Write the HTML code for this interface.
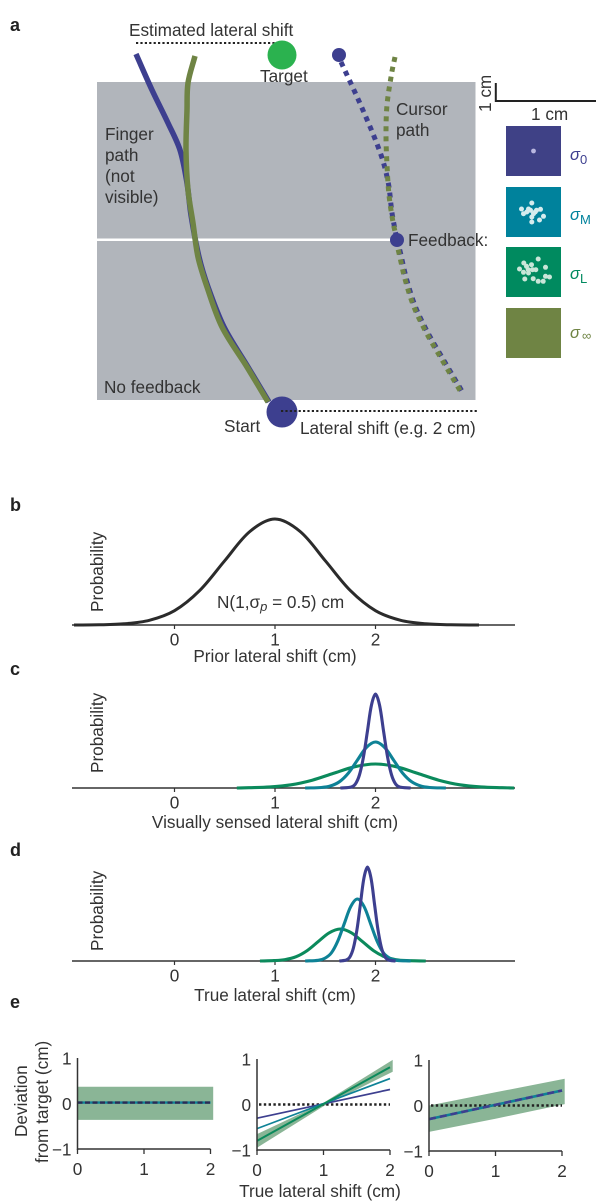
<!DOCTYPE html>
<html lang="en">
<head>
<meta charset="utf-8">
<title>Lateral shift figure</title>
<style>
html,body{margin:0;padding:0;background:#fff}
svg{display:block}
text{font-family:"Liberation Sans",Arial,sans-serif;fill:#333;font-size:17.2px}
.letter{font-weight:bold;font-size:18px;fill:#222}
.sig{font-size:16.5px;font-style:italic}
.sub{font-size:13px;font-style:normal}
</style>
</head>
<body>
<svg id="fig" xmlns="http://www.w3.org/2000/svg" width="600" height="1202" viewBox="0 0 600 1202">
  <rect width="600" height="1202" fill="#fff"/>
  <text class="letter" x="10" y="31">a</text>
  <text class="letter" x="10" y="511">b</text>
  <text class="letter" x="10" y="675">c</text>
  <text class="letter" x="10" y="856">d</text>
  <text class="letter" x="10" y="1008">e</text>

  <g>
    <rect x="97" y="82" width="378.500" height="318" fill="#b1b5bb"/>
    <rect x="97" y="238.500" width="298" height="2.500" fill="#fff"/>
  </g>
  <g id="panelA"></g>
  <g>
    <line x1="136" y1="43" x2="284" y2="43" stroke="#222" stroke-width="2" stroke-dasharray="2.200 2.200"/>
    <circle cx="282" cy="55" r="14.500" fill="#2bb24f"/>
    <circle cx="339" cy="55" r="7" fill="#3d3f8f"/>
    <circle cx="397" cy="240" r="7" fill="#3d3f8f"/>
    <circle cx="282" cy="412" r="15.500" fill="#3d3f8f"/>
    <line x1="281" y1="411" x2="477" y2="411" stroke="#222" stroke-width="2" stroke-dasharray="2.200 2.200"/>
    <text x="129" y="36">Estimated lateral shift</text>
    <text x="260" y="82">Target</text>
    <text x="396" y="115">Cursor</text>
    <text x="396" y="136">path</text>
    <text x="105" y="140">Finger</text>
    <text x="105" y="161">path</text>
    <text x="105" y="182">(not</text>
    <text x="105" y="203">visible)</text>
    <text x="408" y="246">Feedback:</text>
    <text x="104" y="393">No feedback</text>
    <text x="224" y="432">Start</text>
    <text x="300" y="434">Lateral shift (e.g. 2 cm)</text>
    <path d="M495.800 83V101H596" fill="none" stroke="#222" stroke-width="2"/>
    <text transform="translate(491,112) rotate(-90)">1 cm</text>
    <text x="531" y="120">1 cm</text>
    <rect x="506" y="126" width="55" height="50" fill="#3f4186"/>
    <rect x="506" y="187" width="55" height="50" fill="#00829c"/>
    <rect x="506" y="247" width="55" height="50" fill="#008a5f"/>
    <rect x="506" y="308" width="55" height="50" fill="#6f8444"/>
    <text class="sig" x="570" y="160" style="fill:#3d3f8f">σ<tspan class="sub" dy="4">0</tspan></text>
    <text class="sig" x="570" y="220" style="fill:#00829c">σ<tspan class="sub" dy="4">M</tspan></text>
    <text class="sig" x="570" y="279" style="fill:#008a5f">σ<tspan class="sub" dy="4">L</tspan></text>
    <text class="sig" x="570" y="338" style="fill:#6f8444">σ<tspan class="sub" dy="2" dx="2">∞</tspan></text>
  </g>
  <g id="swatchDots"></g>

  <g id="panelB"></g>
  <g id="panelC"></g>
  <g id="panelD"></g>
  <g id="panelE"></g>

  <text transform="translate(103,612) rotate(-90)">Probability</text>
  <text transform="translate(103,773) rotate(-90)">Probability</text>
  <text transform="translate(103,951) rotate(-90)">Probability</text>
  <text x="217" y="608">N(1,σ<tspan font-style="italic" font-size="13" dy="3">p</tspan><tspan dy="-3"> = 0.5) cm</tspan></text>
  <text x="275" y="662" text-anchor="middle">Prior lateral shift (cm)</text>
  <text x="275" y="828" text-anchor="middle">Visually sensed lateral shift (cm)</text>
  <text x="275" y="1001" text-anchor="middle">True lateral shift (cm)</text>
  <text transform="translate(27,1137) rotate(-90)">Deviation</text>
  <text transform="translate(48,1163) rotate(-90)">from target (cm)</text>
  <text x="320" y="1197" text-anchor="middle">True lateral shift (cm)</text>
</svg>

<script>
// ---------- Panel a: schematic paths, in cm from the start marker ----------
const fingerSigma0X = [-1.46,-1.30,-1.14,-1.02,-.95,-.91,-.83,-.74,-.58,-.34,-.13];
const fingerSigma0Y = [3.58,3.22,2.89,2.62,2.29,1.97,1.55,1.25,.85,.45,.10];
const fingerInfX = [-.87,-.94,-.95,-.96,-.94,-.89,-.84,-.75,-.60,-.35,-.14];
const fingerInfY = [3.56,3.29,3.02,2.62,2.22,1.89,1.55,1.25,.85,.45,.10];
const cursorSigma0UpperX = [.59,.80,.987,1.063,1.10,1.15];
const cursorSigma0UpperY = [3.50,3.04,2.58,2.29,1.99,1.72];
const cursorInfUpperX = [1.13,1.097,1.05,1.04,1.05,1.07,1.11,1.15];
const cursorInfUpperY = [3.55,3.39,3.07,2.77,2.47,2.17,1.90,1.72];
const cursorSigma0LowerX = [1.15,1.18,1.245,1.335,1.46,1.61,1.81];
const cursorSigma0LowerY = [1.72,1.61,1.33,1.05,.79,.53,.19];
const cursorInfLowerX = [1.135,1.165,1.23,1.32,1.445,1.595,1.795];
const cursorInfLowerY = [1.72,1.61,1.33,1.05,.79,.53,.19];

// ---------- Swatch scatter samples ----------
const sigma0DotsX = [0];
const sigma0DotsY = [0];
const sigmaMDotsX = [-12,-10,-1.7,-3,0,-1.7,3,7,10,6,-1.7,-6.7,1.7,-5];
const sigmaMDotsY = [-3,1.7,-9,-1.7,1.7,5,-1.7,-2.7,4.3,8,10,0,0,-3];
const sigmaLDotsX = [4.7,-9.7,-2,-14,-10,-5,-1,2.3,12,-8.7,-.3,4.7,9.7,12,16,-5.3,-7];
const sigmaLDotsY = [-13,-9,-7.3,-3,.3,1,-2.3,-2.3,-4.7,7,6.7,9.3,9.3,4.3,5,-2.3,-5.7];

// ---------- Panel b ----------
const priorCurveX = [-1,-.75,-.5,-.25,0,.25,.5,.75,1,1.25,1.5,1.75,2,2.25,2.5,2.75,3.03];
const priorCurveP = [0,.002,.012,.047,.143,.344,.643,.935,1.06,.935,.643,.344,.143,.047,.012,.002,0];

// ---------- Panel c ----------
const sensedSigma0X = [1.65,1.76,1.80,1.84,1.88,1.92,1.96,2,2.04,2.08,2.12,2.16,2.20,2.24,2.35];
const sensedSigma0P = [0,.01,.04,.13,.31,.57,.83,.94,.83,.57,.31,.13,.04,.01,0];
const sensedSigmaMX = [1.30,1.46,1.55,1.64,1.73,1.82,1.91,2,2.09,2.18,2.27,2.36,2.45,2.54,2.70];
const sensedSigmaMP = [0,.005,.02,.062,.149,.279,.406,.46,.406,.279,.149,.062,.02,.005,0];
const sensedSigmaLX = [.62,.74,.95,1.16,1.37,1.58,1.79,2,2.21,2.42,2.63,2.84,3.05,3.26,3.38];
const sensedSigmaLP = [0,.003,.011,.032,.078,.146,.212,.24,.212,.146,.078,.032,.011,.003,0];

// ---------- Panel d ----------
const trueSigma0X = [1.64,1.71,1.745,1.78,1.815,1.85,1.885,1.92,1.955,1.99,2.025,2.06,2.095,2.13,2.2];
const trueSigma0P = [0,.01,.04,.13,.31,.57,.83,.94,.83,.57,.31,.13,.04,.01,0];
const trueSigmaMX = [1.30,1.43,1.495,1.56,1.625,1.69,1.755,1.82,1.885,1.95,2.015,2.08,2.145,2.21,2.35];
const trueSigmaMP = [0,.007,.027,.08,.2,.376,.547,.62,.547,.376,.2,.08,.027,.007,0];
const trueSigmaLX = [.85,.99,1.10,1.21,1.32,1.43,1.54,1.65,1.76,1.87,1.98,2.09,2.20,2.31,2.50];
const trueSigmaLP = [0,.004,.014,.043,.104,.194,.282,.32,.282,.194,.104,.043,.014,.004,0];

// ---------- Panel e ----------
const deviationTicksX = [0,1,2];
const deviationTicksY = [1,0,-1];
const deviationLabelsY = ['1','0','\u22121'];
const shiftX = [0,2];
const optimalBandX = [0,1,2.04];
const fullCompUpper = [.37,.37,.37];
const fullCompLower = [-.36,-.36,-.36];
const fullCompLine = [.02,.02];
const noCompUpper = [-.65,.04,.98];
const noCompLower = [-.95,-.04,.72];
const noCompSigma0 = [-.30,.33];
const noCompSigmaM = [-.53,.57];
const noCompSigmaL = [-.80,.82];
const bayesUpper = [0,.29,.59];
const bayesLower = [-.58,-.29,.03];
const bayesLine = [-.30,.33];

// ---------- Tick labels ----------
const shiftTicks = [0,1,2];

// ---------- Colours ----------
const PURPLE = '#3d3f8f', TEAL = '#0e8296', GREEN = '#0b8a5c', OLIVE = '#6f8444', BAND = '#8ab596', INK = '#333';

const NS = 'http://www.w3.org/2000/svg';
function make(parent, tag, attrs) {
  const el = document.createElementNS(NS, tag);
  for (const k in attrs) el.setAttribute(k, attrs[k]);
  parent.appendChild(el);
  return el;
}
function smooth(pts) {
  const t = [0];
  for (let i = 1; i < pts.length; i++) {
    t.push(t[i - 1] + Math.max(Math.hypot(pts[i][0] - pts[i - 1][0], pts[i][1] - pts[i - 1][1]), 0.01));
  }
  const slope = i => {
    const a = Math.max(i - 1, 0), b = Math.min(i + 1, pts.length - 1);
    return [(pts[b][0] - pts[a][0]) / (t[b] - t[a]), (pts[b][1] - pts[a][1]) / (t[b] - t[a])];
  };
  let d = 'M' + pts[0][0].toFixed(2) + ' ' + pts[0][1].toFixed(2);
  for (let i = 0; i < pts.length - 1; i++) {
    const h = (t[i + 1] - t[i]) / 3, m1 = slope(i), m2 = slope(i + 1);
    d += 'C' + (pts[i][0] + m1[0] * h).toFixed(2) + ' ' + (pts[i][1] + m1[1] * h).toFixed(2) + ' ' +
      (pts[i + 1][0] - m2[0] * h).toFixed(2) + ' ' + (pts[i + 1][1] - m2[1] * h).toFixed(2) + ' ' +
      pts[i + 1][0].toFixed(2) + ' ' + pts[i + 1][1].toFixed(2);
  }
  return d;
}
function curve(parent, name, xs, ys, sx, sy, style) {
  const pts = xs.map((x, i) => [sx(x), sy(ys[i])]);
  const el = make(parent, 'path', Object.assign({ d: smooth(pts), fill: 'none' }, style));
  
  
  return el;
}
function label(parent, name, x, y, str, anchor, size) {
  const el = make(parent, 'text', { x: x, y: y, 'text-anchor': anchor, style: 'font-size:' + size + 'px' });
  el.textContent = str;
  
  
  return el;
}
function rule(parent, name, x1, y1, x2, y2, style) {
  const el = make(parent, 'line', Object.assign({ x1: x1, y1: y1, x2: x2, y2: y2 }, style));
  
  
  return el;
}

// Panel a
const gA = document.getElementById('panelA');
const aX = v => 282 + v * 100;
const aY = v => 412 - v * 100;
const cursorDash = { 'stroke-width': 5, 'stroke-dasharray': '5 5' };
curve(gA, 'finger-path-sigma-0', fingerSigma0X, fingerSigma0Y, aX, aY, { stroke: PURPLE, 'stroke-width': 5.5 });
curve(gA, 'finger-path-sigma-infinity', fingerInfX, fingerInfY, aX, aY, { stroke: OLIVE, 'stroke-width': 5.5 });
curve(gA, 'cursor-path-sigma-0-before-feedback', cursorSigma0UpperX, cursorSigma0UpperY, aX, aY, Object.assign({ stroke: PURPLE }, cursorDash));
curve(gA, 'cursor-path-sigma-infinity-before-feedback', cursorInfUpperX, cursorInfUpperY, aX, aY, Object.assign({ stroke: OLIVE }, cursorDash));
curve(gA, 'cursor-path-sigma-0-after-feedback', cursorSigma0LowerX, cursorSigma0LowerY, aX, aY, Object.assign({ stroke: PURPLE }, cursorDash));
curve(gA, 'cursor-path-sigma-infinity-after-feedback', cursorInfLowerX, cursorInfLowerY, aX, aY, Object.assign({ stroke: OLIVE }, cursorDash));

// Swatch dots
const gS = document.getElementById('swatchDots');
function dots(name, xs, ys, cx, cy, fill, r) {
  xs.forEach((x, i) => {
    const el = make(gS, 'circle', { cx: cx + x, cy: cy + ys[i], r: r, fill: fill });
    
    
  });
}
dots('sigma-0-sample-dot', sigma0DotsX, sigma0DotsY, 533.5, 151, '#b9b7e0', 2.4);
dots('sigma-m-sample-dot', sigmaMDotsX, sigmaMDotsY, 533.5, 212, '#d5ecee', 2.5);
dots('sigma-l-sample-dot', sigmaLDotsX, sigmaLDotsY, 533.5, 272, '#c9e6d8', 2.5);

// Panels b, c, d
function probAxis(g, prefix, baseY, sx) {
  rule(g, prefix + '-x-axis', 72, baseY, 515, baseY, { stroke: INK, 'stroke-width': 1.5 });
  shiftTicks.forEach(t => {
    rule(g, prefix + '-x-tick', sx(t), baseY, sx(t), baseY + 4, { stroke: INK, 'stroke-width': 1.2 });
    label(g, prefix + '-x-tick-label', sx(t), baseY + 20.5, String(t), 'middle', 17.2);
  });
}
const px = v => 174.5 + v * 100.5;
const gB = document.getElementById('panelB');
const byB = v => 625 - v * 100;
probAxis(gB, 'panel-b', 625, px);
curve(gB, 'prior-curve', priorCurveX, priorCurveP, px, byB, { stroke: '#2b2b2b', 'stroke-width': 3 });

const curveWidth = 3.1;
const gC = document.getElementById('panelC');
const byC = v => 788 - v * 100;
probAxis(gC, 'panel-c', 788, px);
curve(gC, 'sensed-curve-sigma-l', sensedSigmaLX, sensedSigmaLP, px, byC, { stroke: GREEN, 'stroke-width': curveWidth });
curve(gC, 'sensed-curve-sigma-m', sensedSigmaMX, sensedSigmaMP, px, byC, { stroke: TEAL, 'stroke-width': curveWidth });
curve(gC, 'sensed-curve-sigma-0', sensedSigma0X, sensedSigma0P, px, byC, { stroke: PURPLE, 'stroke-width': curveWidth });

const gD = document.getElementById('panelD');
const byD = v => 961 - v * 100;
probAxis(gD, 'panel-d', 961, px);
curve(gD, 'true-curve-sigma-l', trueSigmaLX, trueSigmaLP, px, byD, { stroke: GREEN, 'stroke-width': curveWidth });
curve(gD, 'true-curve-sigma-m', trueSigmaMX, trueSigmaMP, px, byD, { stroke: TEAL, 'stroke-width': curveWidth });
curve(gD, 'true-curve-sigma-0', trueSigma0X, trueSigma0P, px, byD, { stroke: PURPLE, 'stroke-width': curveWidth });

// Panel e
const gE = document.getElementById('panelE');
function devPanel(prefix, left, zeroY, draw) {
  const sx = v => left + v * 66.5;
  const sy = v => zeroY - v * 45.5;
  draw(sx, sy);
  rule(gE, prefix + '-y-axis', left, sy(1), left, sy(-1) + 1, { stroke: INK, 'stroke-width': 1.5 });
  rule(gE, prefix + '-x-axis', left, sy(-1), sx(2), sy(-1), { stroke: INK, 'stroke-width': 1.5 });
  deviationTicksX.forEach(t => {
    rule(gE, prefix + '-x-tick', sx(t), sy(-1), sx(t), sy(-1) + 5, { stroke: INK, 'stroke-width': 1.3 });
    label(gE, prefix + '-x-tick-label', sx(t), sy(-1) + 26, String(t), 'middle', 17.2);
  });
  deviationTicksY.forEach((t, i) => {
    label(gE, prefix + '-y-tick-label', left - 6, sy(t) + 6.5, deviationLabelsY[i], 'end', 17.2);
  });
}
function band(prefix, sx, sy, upper, lower) {
  const top = optimalBandX.map((x, i) => sx(x).toFixed(1) + ',' + sy(upper[i]).toFixed(1));
  const bot = optimalBandX.map((x, i) => sx(x).toFixed(1) + ',' + sy(lower[i]).toFixed(1)).reverse();
  const el = make(gE, 'polygon', { points: top.concat(bot).join(' '), fill: BAND });
  
  
}
function seriesLine(name, sx, sy, ys, style) {
  const el = make(gE, 'line', Object.assign({ x1: sx(shiftX[0]), y1: sy(ys[0]), x2: sx(shiftX[1]), y2: sy(ys[1]) }, style));
  
  
}
function zeroLine(prefix, sx, sy) {
  rule(gE, prefix + '-zero-line', sx(0) + 2, sy(0), sx(2), sy(0), { stroke: '#222', 'stroke-width': 2.4, 'stroke-dasharray': '2.4 2.4' });
}
devPanel('full-compensation', 77.5, 1103.5, (sx, sy) => {
  band('full-compensation', sx, sy, fullCompUpper, fullCompLower);
  seriesLine('full-compensation-line', sx, sy, fullCompLine, { stroke: TEAL, 'stroke-width': 2.4 });
  seriesLine('full-compensation-dashes', sx, sy, fullCompLine, { stroke: '#2b2b55', 'stroke-width': 2.4, 'stroke-dasharray': '5 2.5' });
});
devPanel('no-compensation', 257, 1104.5, (sx, sy) => {
  band('no-compensation', sx, sy, noCompUpper, noCompLower);
  zeroLine('no-compensation', sx, sy);
  seriesLine('no-compensation-sigma-0', sx, sy, noCompSigma0, { stroke: PURPLE, 'stroke-width': 1.7 });
  seriesLine('no-compensation-sigma-m', sx, sy, noCompSigmaM, { stroke: TEAL, 'stroke-width': 1.7 });
  seriesLine('no-compensation-sigma-l', sx, sy, noCompSigmaL, { stroke: GREEN, 'stroke-width': 2 });
});
devPanel('bayesian', 429, 1105.5, (sx, sy) => {
  band('bayesian', sx, sy, bayesUpper, bayesLower);
  zeroLine('bayesian', sx, sy);
  seriesLine('bayesian-line', sx, sy, bayesLine, { stroke: TEAL, 'stroke-width': 2.6 });
  seriesLine('bayesian-dashes', sx, sy, bayesLine, { stroke: PURPLE, 'stroke-width': 2.6, 'stroke-dasharray': '7 4' });
});
</script>
</body>
</html>
